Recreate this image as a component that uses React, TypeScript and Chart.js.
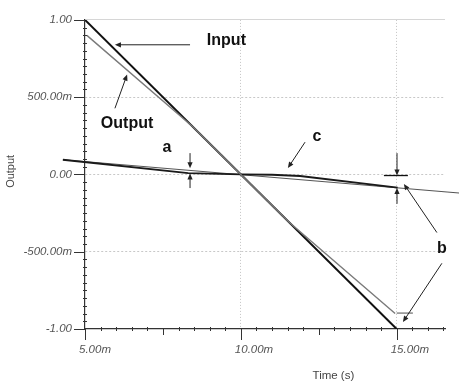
import React, { useEffect, useRef } from "react";
import { Chart, registerables } from "chart.js";

Chart.register(...registerables);

// ---- data (time in ms, value in V) ----
const inputT = [5, 15];
const inputV = [1.0, -1.0];

const outputT = [5.06, 8.45, 10, 11.55, 14.95];
const outputV = [0.9, 0.31, 0, -0.31, -0.9];

const errKinkT = [4.29, 8.31, 10, 11.0, 11.9, 15.03];
const errKinkV = [0.095, 0.008, 0, -0.002, -0.01, -0.085];

const errLineT = [4.29, 17.0];
const errLineV = [0.095, -0.12];

const xMin = 5;
const xMax = 16.55;
const xTickStep = 0.5;
const yMin = -1;
const yMax = 1;
const yTickStep = 0.05;

const xLabelMap: Record<string, string> = { "5": "5.00m", "10": "10.00m", "15": "15.00m" };
const yLabelMap: Record<string, string> = {
  "1": "1.00",
  "0.5": "500.00m",
  "0": "0.00",
  "-0.5": "-500.00m",
  "-1": "-1.00",
};

// annotation labels (data coordinates)
const noteTexts = [
  { text: "Input", t: 8.91, v: 0.865, align: "left" },
  { text: "Output", t: 6.35, v: 0.331, align: "center" },
  { text: "a", t: 7.63, v: 0.177, align: "center" },
  { text: "c", t: 12.44, v: 0.248, align: "center" },
  { text: "b", t: 16.45, v: -0.479, align: "center" },
];

// arrows: from (t1,v1) to tip (t2,v2)
const noteArrows = [
  [8.37, 0.839, 5.96, 0.839],
  [5.96, 0.428, 6.35, 0.646],
  [8.37, 0.138, 8.37, 0.04],
  [8.37, -0.088, 8.37, 0.006],
  [12.06, 0.209, 11.51, 0.042],
  [15.01, 0.138, 15.01, -0.006],
  [15.01, -0.19, 15.01, -0.087],
  [16.29, -0.376, 15.23, -0.061],
  [16.45, -0.575, 15.2, -0.955],
];

// short horizontal marker segments [t1, t2, v]
const noteMarks = [
  [14.59, 15.36, -0.007, "#111"],
  [15.0, 15.52, -0.897, "#777"],
];

const toPts = (t: number[], v: number[]) => t.map((x, i) => ({ x, y: v[i] }));

const keyOf = (v: number) => String(Math.round(v * 100) / 100);

const FONT = "'Liberation Sans', Arial, sans-serif";

const decorPlugin = {
  id: "decor",
  afterDraw(chart: any) {
    const { ctx, chartArea, scales } = chart;
    const xs = scales.x;
    const ys = scales.y;
    ctx.save();
    // tick marks
    ctx.strokeStyle = "#333";
    ctx.lineWidth = 1;
    ctx.beginPath();
    for (let v = xMin; v <= xMax + 1e-9; v += xTickStep) {
      const px = Math.round(xs.getPixelForValue(v)) + 0.5;
      const yb = chartArea.bottom;
      const r5 = Math.abs(v / 5 - Math.round(v / 5)) < 1e-6;
      const r25 = Math.abs(v / 2.5 - Math.round(v / 2.5)) < 1e-6;
      if (r5) {
        ctx.moveTo(px, yb);
        ctx.lineTo(px, yb + 11);
      } else if (r25) {
        ctx.moveTo(px, yb);
        ctx.lineTo(px, yb + 6);
      } else {
        ctx.moveTo(px, yb - 2);
        ctx.lineTo(px, yb + 2);
      }
    }
    for (let i = 0; i <= Math.round((yMax - yMin) / yTickStep); i++) {
      const v = yMin + i * yTickStep;
      const py = Math.round(ys.getPixelForValue(v)) + 0.5;
      const xl = chartArea.left;
      const major = Math.abs(v * 2 - Math.round(v * 2)) < 1e-6;
      if (major) {
        ctx.moveTo(xl - 11, py);
        ctx.lineTo(xl, py);
      } else {
        ctx.moveTo(xl - 2, py);
        ctx.lineTo(xl + 2, py);
      }
    }
    ctx.stroke();

    // axis titles
    ctx.fillStyle = "#444";
    ctx.font = `11.5px ${FONT}`;
    ctx.textAlign = "center";
    ctx.textBaseline = "middle";
    ctx.fillText("Time (s)", xs.getPixelForValue(12.97), chartArea.bottom + 47);
    ctx.save();
    ctx.translate(11, ys.getPixelForValue(0.02));
    ctx.rotate(-Math.PI / 2);
    ctx.font = `11px ${FONT}`;
    ctx.fillText("Output", 0, 0);
    ctx.restore();

    // markers
    for (const m of noteMarks) {
      const [t1, t2, v, col] = m as any;
      ctx.strokeStyle = col;
      ctx.lineWidth = 1.3;
      ctx.beginPath();
      const py = ys.getPixelForValue(v);
      ctx.moveTo(xs.getPixelForValue(t1), py);
      ctx.lineTo(xs.getPixelForValue(t2), py);
      ctx.stroke();
    }

    // arrows
    ctx.strokeStyle = "#222";
    ctx.fillStyle = "#222";
    ctx.lineWidth = 1;
    for (const a of noteArrows) {
      const x1 = xs.getPixelForValue(a[0]);
      const y1 = ys.getPixelForValue(a[1]);
      const x2 = xs.getPixelForValue(a[2]);
      const y2 = ys.getPixelForValue(a[3]);
      const ang = Math.atan2(y2 - y1, x2 - x1);
      const hl = 6;
      const hw = 2.6;
      ctx.beginPath();
      ctx.moveTo(x1, y1);
      ctx.lineTo(x2 - Math.cos(ang) * hl * 0.8, y2 - Math.sin(ang) * hl * 0.8);
      ctx.stroke();
      ctx.beginPath();
      ctx.moveTo(x2, y2);
      ctx.lineTo(
        x2 - Math.cos(ang) * hl + Math.sin(ang) * hw,
        y2 - Math.sin(ang) * hl - Math.cos(ang) * hw
      );
      ctx.lineTo(
        x2 - Math.cos(ang) * hl - Math.sin(ang) * hw,
        y2 - Math.sin(ang) * hl + Math.cos(ang) * hw
      );
      ctx.closePath();
      ctx.fill();
    }

    // texts
    ctx.fillStyle = "#111";
    ctx.font = `bold 16px ${FONT}`;
    ctx.textBaseline = "middle";
    for (const n of noteTexts) {
      ctx.textAlign = n.align as CanvasTextAlign;
      ctx.fillText(n.text, xs.getPixelForValue(n.t), ys.getPixelForValue(n.v));
    }
    ctx.restore();
  },
};

export default function App() {
  const ref = useRef<HTMLCanvasElement>(null);
  useEffect(() => {
    document.body.style.margin = "0";
    const xTicks: number[] = [];
    for (let i = 0; i <= Math.floor((xMax - xMin) / xTickStep + 1e-9); i++) xTicks.push(xMin + i * xTickStep);
    const yTicks: number[] = [];
    for (let i = 0; i <= Math.round((yMax - yMin) / yTickStep); i++)
      yTicks.push(Math.round((yMin + i * yTickStep) * 100) / 100);

    const chart = new Chart(ref.current!, {
      type: "line",
      data: {
        datasets: [
          {
            label: "Output",
            data: toPts(outputT, outputV),
            borderColor: "#7a7a7a",
            borderWidth: 1.4,
            pointRadius: 0,
            tension: 0,
          },
          {
            label: "Input",
            data: toPts(inputT, inputV),
            borderColor: "#111",
            borderWidth: 2,
            pointRadius: 0,
            tension: 0,
          },
          {
            label: "err2",
            data: toPts(errKinkT, errKinkV),
            borderColor: "#1a1a1a",
            borderWidth: 1.8,
            pointRadius: 0,
            tension: 0,
            clip: false,
          },
          {
            label: "err1",
            data: toPts(errLineT, errLineV),
            borderColor: "#555",
            borderWidth: 1.1,
            pointRadius: 0,
            tension: 0,
            clip: false,
          },
        ] as any,
      },
      options: {
        animation: false,
        responsive: false,
        devicePixelRatio: 1,
        layout: { padding: { top: 18, right: 29, left: 0, bottom: 0 } },
        plugins: { legend: { display: false }, tooltip: { enabled: false } },
        scales: {
          x: {
            type: "linear",
            min: xMin,
            max: xMax,
            afterBuildTicks: (s: any) => {
              s.ticks = xTicks.map((value) => ({ value }));
            },
            afterFit: (s: any) => {
              s.height = 59;
            },
            ticks: {
              autoSkip: false,
              maxRotation: 0,
              align: "start",
              labelOffset: -6,
              padding: 14,
              color: "#555",
              font: { family: FONT, size: 11.5, style: "italic" },
              callback: (v: any) => xLabelMap[keyOf(Number(v))] ?? "",
            },
            grid: {
              drawTicks: false,
              lineWidth: 1,
              color: (c: any) => {
                const v = c.tick?.value;
                return v === 10 || v === 15 ? "#c4c4c4" : "rgba(0,0,0,0)";
              },
            },
            border: { display: true, color: "#333", width: 1.2, dash: [1, 2] },
          },
          y: {
            type: "linear",
            min: yMin,
            max: yMax,
            afterBuildTicks: (s: any) => {
              s.ticks = yTicks.map((value) => ({ value }));
            },
            afterFit: (s: any) => {
              s.width = 85;
            },
            ticks: {
              autoSkip: false,
              padding: 13,
              color: "#555",
              font: { family: FONT, size: 11.5, style: "italic" },
              callback: (v: any) => yLabelMap[keyOf(Number(v))] ?? "",
            },
            grid: {
              drawTicks: false,
              lineWidth: 1,
              color: (c: any) => {
                const v = c.tick?.value;
                if (v === 1) return "#d6d6d6";
                if (v === 0.5 || v === 0 || v === -0.5) return "#c8c8c8";
                return "rgba(0,0,0,0)";
              },
            },
            border: {
              display: true,
              color: "#333",
              width: 1.2,
              dash: (c: any) => (c.tick?.value === 1 ? [] : [2, 2]),
            },
          },
        },
      },
      plugins: [decorPlugin],
    } as any);
    return () => chart.destroy();
  }, []);
  return (
    <div style={{ width: 474, height: 388, background: "#fff" }}>
      <canvas ref={ref} width={474} height={388} style={{ display: "block" }} />
    </div>
  );
}
